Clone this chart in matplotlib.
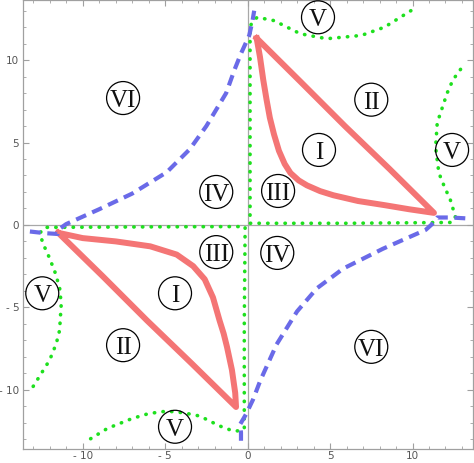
import numpy as np
import matplotlib.pyplot as plt
from matplotlib.patches import Circle
from matplotlib.ticker import MultipleLocator, FixedLocator, FixedFormatter

# red loops (closed)
red_up_x = [0.55, 0.75, 0.95, 1.15, 1.35, 1.6, 1.9, 2.25, 2.6, 3.1, 3.6, 4.4, 5.2, 6.7, 8.3, 9.8, 11.3,
            8.6, 5.9, 3.2, 0.55]
red_up_y = [11.33, 10.2, 8.8, 7.6, 6.5, 5.5, 4.5, 3.7, 3.15, 2.7, 2.4, 2.05, 1.8, 1.45, 1.2, 0.95, 0.73,
            3.4, 6.0, 8.7, 11.33]
red_lo_x = [-11.48, -10.0, -8.0, -5.9, -4.3, -3.3, -2.6, -2.1, -1.7, -1.45, -1.25, -0.95, -0.75, -0.7,
            -3.4, -6.1, -8.8, -11.48]
red_lo_y = [-0.48, -0.8, -1.0, -1.3, -1.8, -2.5, -3.3, -4.4, -5.8, -6.6, -7.4, -8.8, -10.2, -11.05,
            -8.4, -5.8, -3.1, -0.48]

# blue dashed branches
blue_a_x = [-13.2, -12.3, -11.5, -11.35, -11.0, -9.0, -7.0, -4.9, -3.5, -2.5, -1.3, -0.8, -0.4, 0.1, 0.3, 0.4]
blue_a_y = [-0.4, -0.5, -0.55, -0.2, 0.05, 0.95, 1.9, 3.2, 4.6, 6.0, 8.0, 9.4, 10.4, 11.5, 12.4, 13.0]
blue_b_x = [13.2, 12.3, 11.5, 11.3, 10.8, 8.2, 5.8, 4.2, 3.0, 1.76, 0.77, 0.33, -0.1, -0.45, -0.4, -0.4]
blue_b_y = [0.4, 0.45, 0.45, 0.15, -0.3, -1.45, -2.65, -3.85, -5.25, -7.25, -9.45, -10.6, -11.5, -12.1, -12.6, -13.1]

# green dotted curves
green_lo_x = [-13.0, -12.5, -12.0, -11.6, -11.4, -11.3, -11.4, -11.7, -12.1, -12.4, -12.6, -12.3, -6.0,
              -0.15, -0.2, -0.2, -0.35, -0.9, -1.7, -2.9, -3.9, -4.9, -6.0, -7.0, -8.5, -9.8]
green_lo_y = [-9.8, -9.0, -8.2, -7.2, -6.4, -4.8, -3.8, -2.8, -1.8, -1.15, -0.5, -0.15, -0.12,
              -0.1, -6.0, -12.3, -12.5, -12.5, -12.2, -11.6, -11.4, -11.3, -11.45, -11.75, -12.35, -13.15]
green_up_x = [9.9, 8.3, 6.9, 4.8, 3.2, 1.6, 0.58, 0.27, 0.15, 0.15, 6.0, 12.4, 12.6,
              12.3, 11.9, 11.6, 11.4, 11.5, 11.8, 12.1, 12.45, 13.1]
green_up_y = [13.0, 12.0, 11.5, 11.3, 11.6, 12.4, 12.6, 12.3, 12.0, 0.1, 0.1, 0.15, 0.5,
              1.5, 2.4, 3.15, 4.7, 6.2, 7.1, 8.0, 8.8, 9.7]

# region labels
lab_txt = ['V', 'VI', 'II', 'I', 'V', 'IV', 'III', 'III', 'IV', 'V', 'I', 'II', 'VI', 'V']
lab_x = [4.27, -7.55, 7.5, 4.33, 12.4, -1.9, 1.85, -1.9, 1.8, -12.45, -4.4, -7.55, 7.5, -4.4]
lab_y = [12.6, 7.7, 7.6, 4.55, 4.55, 2.0, 2.06, -1.65, -1.7, -4.15, -4.15, -7.3, -7.4, -12.25]

ticks = [-10, -5, 0, 5, 10]
xlabels = ['- 10', '- 5', '0', '5', '10']
ylabels = ['- 10', '- 5', '0', '5', '10']

fig = plt.figure(figsize=(4.74, 4.63), dpi=100)
ax = fig.add_axes([23.3/474, 14/463, 449.4/474, 449/463])
ax.set_xlim(-13.6, 13.65)
ax.set_ylim(-13.6, 13.65)

ax.axhline(0, color='#a8a8a8', lw=0.9, zorder=1)
ax.axvline(0, color='#a8a8a8', lw=0.9, zorder=1)

red = '#f47575'
ax.plot(red_up_x, red_up_y, color=red, lw=4.3, solid_joinstyle='round', zorder=2)
ax.plot(red_lo_x, red_lo_y, color=red, lw=4.3, solid_joinstyle='round', zorder=2)

green = '#1ee01e'
for gx, gy in [(green_lo_x, green_lo_y), (green_up_x, green_up_y)]:
    ax.plot(gx, gy, color=green, lw=2.6, linestyle=(0, (0.1, 2.3)),
            dash_capstyle='round', zorder=3)

blue = '#6a6ae8'
for bx, by in [(blue_a_x, blue_a_y), (blue_b_x, blue_b_y)]:
    ax.plot(bx, by, color=blue, lw=3.0, linestyle=(0, (2.6, 1.6)), zorder=4)

for t, x, y in zip(lab_txt, lab_x, lab_y):
    ax.add_patch(Circle((x, y), 1.0, fill=False, ec='black', lw=0.9, zorder=5))
    ax.text(x, y - 0.55, t, ha='center', va='baseline', fontsize=18,
            family='Liberation Serif', color='#111111', zorder=6)

ax.xaxis.set_major_locator(FixedLocator(ticks))
ax.xaxis.set_major_formatter(FixedFormatter(xlabels))
ax.yaxis.set_major_locator(FixedLocator(ticks))
ax.yaxis.set_major_formatter(FixedFormatter(ylabels))
ax.xaxis.set_minor_locator(MultipleLocator(1))
ax.yaxis.set_minor_locator(MultipleLocator(1))
ax.tick_params(which='both', direction='in', top=True, right=True, color='#a0a0a0',
               labelcolor='#555555', labelsize=7.5)
ax.tick_params(axis='y', pad=3)
ax.tick_params(axis='x', pad=1.5)
ax.tick_params(which='major', length=4.5, width=0.8)
ax.tick_params(which='minor', length=2.5, width=0.6)
for s in ax.spines.values():
    s.set_color('#a0a0a0')
    s.set_linewidth(0.9)

fig.savefig('out.png', dpi=100)
